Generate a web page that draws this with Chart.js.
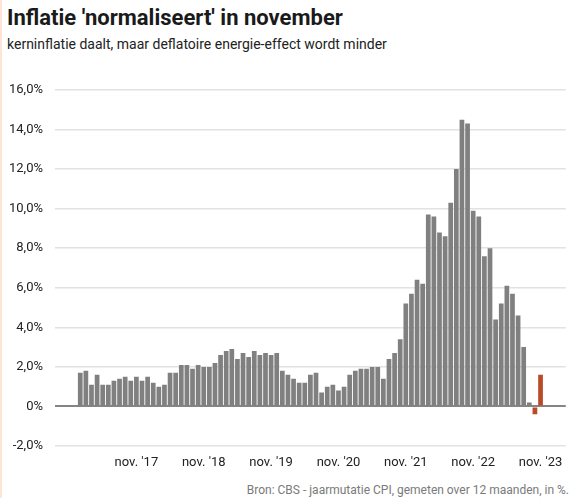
<!DOCTYPE html>
<html><head><meta charset="utf-8">
<script src="https://cdn.jsdelivr.net/npm/chart.js@4"></script>
<style>
html,body{margin:0;padding:0;background:#fff;}
body{width:572px;height:498px;position:relative;overflow:hidden;font-family:Roboto,sans-serif;}
#strip{position:absolute;left:0;top:0;width:2px;height:498px;background:#fde4d6;}
#title{position:absolute;left:7px;top:5px;font-size:22px;line-height:26px;font-weight:700;color:#1a1a1a;white-space:nowrap;}
#sub{position:absolute;left:7px;top:36px;font-size:14px;line-height:17px;color:#222;white-space:nowrap;}
#foot{position:absolute;right:3px;top:483px;font-size:12px;line-height:14px;color:#7a7a7a;white-space:nowrap;}
#wrap{position:absolute;left:0;top:62px;width:572px;height:414px;}
</style></head><body>
<div id="strip"></div>
<div id="title">Inflatie 'normaliseert' in november</div>
<div id="sub">kerninflatie daalt, maar deflatoire energie-effect wordt minder</div>
<div id="wrap"><canvas id="c"></canvas></div>
<div id="foot">Bron: CBS - jaarmutatie CPI, gemeten over 12 maanden, in %.</div>
<script>
// months shown on the axis (Sep 2016 .. Mar 2024); data from Jan 2017 to Nov 2023
const startYear = 2016, startMonth = 9, monthCount = 91;
const cpi2017 = [1.7,1.8,1.1,1.6,1.1,1.1,1.3,1.4,1.5,1.3,1.5,1.3];
const cpi2018 = [1.5,1.2,1.0,1.1,1.7,1.7,2.1,2.1,1.9,2.1,2.0,2.0];
const cpi2019 = [2.2,2.6,2.8,2.9,2.4,2.7,2.5,2.8,2.6,2.7,2.6,2.7];
const cpi2020 = [1.8,1.6,1.4,1.2,1.2,1.6,1.7,0.7,1.0,1.1,0.8,1.0];
const cpi2021 = [1.6,1.8,1.9,1.9,2.0,2.0,1.4,2.4,2.7,3.4,5.2,5.7];
const cpi2022 = [6.4,6.2,9.7,9.6,8.8,8.6,10.3,12.0,14.5,14.3,9.9,9.6];
const cpi2023 = [7.6,8.0,4.4,5.2,6.1,5.7,4.6,3.0,0.2];
const recent2023 = [-0.4,1.6]; // okt, nov 2023 (highlighted)
const yTicks = [-2,0,2,4,6,8,10,12,14,16];

const categories = [];
for (let i=0;i<monthCount;i++){
  const m = (startMonth-1+i)%12+1, y = startYear+Math.floor((startMonth-1+i)/12);
  categories.push({m:m,y:y});
}
const history = [].concat(cpi2017,cpi2018,cpi2019,cpi2020,cpi2021,cpi2022,cpi2023);
const firstIdx = 4; // Jan 2017
const grayData = categories.map((c,i)=> (i>=firstIdx && i<firstIdx+history.length)? history[i-firstIdx] : null);
const orangeData = categories.map((c,i)=>{const k=i-(firstIdx+history.length);return (k>=0&&k<recent2023.length)?recent2023[k]:null;});
const colors = categories.map((c,i)=> orangeData[i]!==null ? '#b84a27' : '#808080');
const values = grayData.map((v,i)=> v!==null? v : orangeData[i]);

new Chart(document.getElementById('c'),{
  type:'bar',
  data:{labels:categories.map(c=>c.m+'-'+c.y),
    datasets:[{data:values,backgroundColor:colors,barPercentage:0.84,categoryPercentage:1}]},
  options:{
    responsive:true,maintainAspectRatio:false,animation:false,
    layout:{padding:{top:28,right:2.5,left:0,bottom:0}},
    plugins:{legend:{display:false},tooltip:{enabled:false}},
    scales:{
      x:{grid:{display:false,drawTicks:false},border:{display:false},
        afterFit:s=>{s.height=30;},
        ticks:{autoSkip:false,maxRotation:0,padding:9,color:'#222',font:{family:'Roboto',size:13},
          callback:function(v,i){const c=categories[i];return (c.m===11&&c.y>=2017)?"nov. '"+String(c.y).slice(2):'';}}},
      y:{min:-2,max:16,border:{display:false},
        afterFit:s=>{s.width=55;},
        afterBuildTicks:s=>{s.ticks=yTicks.map(v=>({value:v}));},
        grid:{drawTicks:false,color:c=>c.tick&&c.tick.value===0?'#858585':'#e2e2e2',lineWidth:c=>c.tick&&c.tick.value===0?2:1.5},
        ticks:{padding:12,color:'#222',font:{family:'Roboto',size:13},
          callback:v=> v===0?'0%':v.toFixed(1).replace('.',',')+'%'}}
    }
  }
});
</script>
</body></html>
